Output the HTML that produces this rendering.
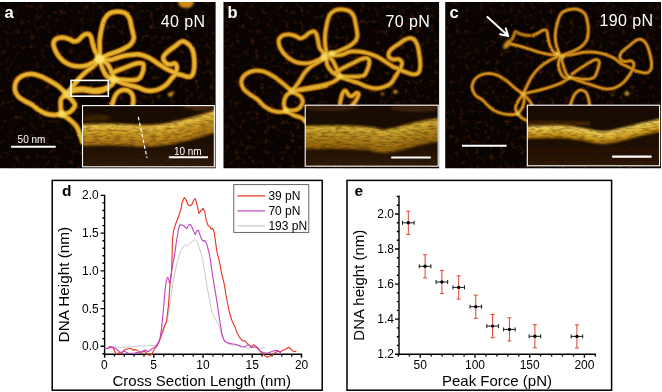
<!DOCTYPE html>
<html><head><meta charset="utf-8"><title>Figure</title>
<style>
html,body{margin:0;padding:0;background:#fff;}
body{width:662px;height:392px;overflow:hidden;position:relative;font-family:"Liberation Sans",Arial,sans-serif;}
svg{position:absolute;left:0;top:0;display:block}
svg text{font-family:"Liberation Sans",Arial,sans-serif;}
</style></head><body>
<svg width="662" height="392" viewBox="0 0 662 392">
<defs>

<filter id="bl0" filterUnits="userSpaceOnUse" x="0" y="0" width="662" height="392"><feTurbulence type="fractalNoise" baseFrequency="0.4" numOctaves="2" seed="5" result="t"/><feDisplacementMap in="SourceGraphic" in2="t" scale="1.8" xChannelSelector="R" yChannelSelector="G"/><feGaussianBlur stdDeviation="0.5"/></filter>
<filter id="bl3" filterUnits="userSpaceOnUse" x="0" y="0" width="662" height="392"><feGaussianBlur stdDeviation="0.9"/></filter>
<filter id="tx" x="0" y="0" width="100%" height="100%" color-interpolation-filters="sRGB"><feTurbulence type="fractalNoise" baseFrequency="0.14 0.5" numOctaves="2" seed="11"/><feColorMatrix values="0 0 0 0 0.08  0 0 0 0 0.03  0 0 0 0 0  0 0 0 0.9 -0.36"/></filter>
<linearGradient id="gia" x1="0" y1="0" x2="0" y2="1"><stop offset="0" stop-color="#170b03"/><stop offset="0.6" stop-color="#1d0f04"/><stop offset="1" stop-color="#301a07"/></linearGradient>
<filter id="nz" x="0" y="0" width="100%" height="100%" color-interpolation-filters="sRGB"><feTurbulence type="fractalNoise" baseFrequency="0.2" numOctaves="3" seed="7"/><feColorMatrix values="0 0 0 0 0.32  0 0 0 0 0.13  0 0 0 0 0.02  0 0 0 2.3 -1.3"/><feGaussianBlur stdDeviation="0.6"/></filter>
<filter id="bl" filterUnits="userSpaceOnUse" x="0" y="0" width="662" height="392"><feTurbulence type="fractalNoise" baseFrequency="0.35" numOctaves="2" seed="3" result="t"/><feDisplacementMap in="SourceGraphic" in2="t" scale="1.6" xChannelSelector="R" yChannelSelector="G"/><feGaussianBlur stdDeviation="0.62"/></filter>
<filter id="bl2" filterUnits="userSpaceOnUse" x="0" y="0" width="662" height="392"><feGaussianBlur stdDeviation="1.1"/></filter>
<clipPath id="ca"><rect x="0" y="2" width="215.6" height="166.3"/></clipPath>
<clipPath id="cb"><rect x="223.5" y="2" width="215.6" height="166.3"/></clipPath>
<clipPath id="cc"><rect x="445.2" y="2" width="215.8" height="166.3"/></clipPath>

</defs>
<rect width="662" height="392" fill="#fff"/>
<g clip-path="url(#ca)"><rect x="0" y="2" width="216" height="167" fill="#090402"/><rect x="0" y="2" width="216" height="167" filter="url(#nz)"/><g filter="url(#bl)" fill="none" stroke-linecap="round" stroke-linejoin="round"><path d="M99.6 59.0C99.6 57.5 99.8 53.3 99.8 50.0C99.8 46.7 99.5 42.9 99.8 39.3C100.1 35.7 100.8 31.9 101.6 28.6C102.3 25.3 103.0 22.1 104.3 19.6C105.6 17.1 107.5 14.7 109.6 13.4C111.7 12.1 114.3 11.7 116.8 11.6C119.3 11.5 122.7 11.9 124.8 12.9C126.9 13.9 128.2 15.9 129.3 17.9C130.4 19.9 130.5 22.5 131.1 25.0C131.7 27.5 132.4 30.8 132.9 33.0C133.4 35.2 134.1 36.6 133.8 38.4C133.5 40.2 132.6 42.2 131.1 43.8C129.6 45.4 127.2 46.9 124.8 48.2C122.4 49.5 119.5 50.8 116.8 51.8C114.1 52.8 111.7 53.3 108.8 54.5C105.9 55.7 101.1 58.2 99.6 59.0 M99.6 59.0C98.9 57.8 96.6 54.3 95.4 51.8C94.2 49.3 93.5 46.3 92.7 43.8C92.0 41.3 91.8 38.2 90.9 36.6C90.0 35.0 88.6 34.0 87.3 33.9C86.0 33.8 84.4 34.7 82.9 35.7C81.4 36.8 79.9 39.2 78.4 40.2C76.9 41.2 75.5 41.6 73.9 41.4C72.3 41.2 70.5 39.5 68.6 38.9C66.7 38.2 64.4 37.5 62.3 37.5C60.2 37.5 57.6 37.9 56.1 38.9C54.6 39.9 53.5 41.9 53.4 43.8C53.2 45.6 54.3 47.9 55.2 50.0C56.1 52.1 57.3 54.4 58.8 56.3C60.3 58.2 62.0 60.1 64.1 61.6C66.2 63.1 68.8 64.4 71.3 65.2C73.8 66.0 76.6 66.4 79.3 66.4C82.0 66.4 84.8 66.0 87.3 65.2C89.8 64.4 92.5 62.6 94.5 61.6C96.5 60.6 98.8 59.4 99.6 59.0 M99.6 59.0C98.7 60.1 96.1 63.5 94.1 65.5C92.0 67.5 89.6 68.8 87.3 70.8C85.0 72.8 82.7 74.8 80.4 77.2C78.1 79.6 75.8 82.5 73.5 85.3C71.2 88.1 67.8 92.7 66.6 94.2 M99.6 59.0C101.3 59.1 106.8 60.2 109.9 59.9C113.0 59.6 115.2 58.2 118.2 57.4C121.2 56.6 124.6 55.7 128.2 55.2C131.8 54.7 136.1 54.1 139.6 54.5C143.1 54.9 146.2 56.3 149.2 57.8C152.2 59.3 155.1 61.8 157.8 63.5C160.5 65.2 163.2 67.0 165.4 68.3C167.6 69.6 169.5 70.3 171.2 71.2C172.9 72.1 175.5 72.2 175.5 73.5C175.5 74.8 172.7 77.1 171.2 78.9C169.7 80.8 168.2 83.0 166.4 84.6C164.7 86.2 162.9 87.4 160.7 88.4C158.5 89.4 155.6 90.4 153.0 90.7C150.4 91.0 147.9 90.9 145.3 90.3C142.8 89.7 140.6 88.2 137.7 87.3C134.8 86.4 130.6 85.6 127.7 84.8C124.8 84.0 122.8 83.1 120.5 82.2C118.2 81.3 114.9 80.0 113.8 79.5 M175.5 73.5C176.5 73.8 179.5 74.4 181.7 75.0C183.8 75.6 186.6 76.9 188.4 76.9C190.2 76.9 191.3 76.4 192.3 75.0C193.3 73.6 193.9 71.0 194.2 68.3C194.5 65.6 194.5 61.9 194.2 58.7C193.9 55.5 193.4 51.8 192.3 49.2C191.2 46.7 189.3 44.7 187.5 43.4C185.7 42.1 183.8 41.0 181.7 41.5C179.6 42.0 177.4 44.5 175.0 46.3C172.6 48.0 169.3 50.2 167.4 52.0C165.5 53.8 164.0 55.2 163.5 56.8C163.0 58.4 163.5 60.3 164.5 61.6C165.5 62.9 167.6 64.2 169.3 64.5C171.1 64.8 173.7 63.0 175.0 63.5C176.3 64.0 176.7 66.0 176.9 67.4C177.1 68.8 176.2 71.3 176.0 72.1 M99.6 59.0C100.1 60.5 101.2 65.4 102.4 68.2C103.6 71.0 104.7 74.1 106.6 76.0C108.5 77.9 112.6 78.9 113.8 79.5 M99.6 59.0C100.8 59.7 104.9 61.7 106.6 63.2C108.3 64.7 108.9 66.4 109.9 68.2C110.9 70.0 111.8 72.1 112.5 74.0C113.2 75.9 113.6 78.6 113.8 79.5 M112.0 73.0C113.6 72.3 118.5 70.2 121.5 69.0C124.5 67.8 127.0 66.7 129.8 65.7C132.6 64.7 135.9 63.5 138.1 63.2C140.3 62.9 142.2 62.9 143.1 64.0C144.0 65.1 143.5 68.2 143.3 69.9C143.1 71.6 142.5 72.8 141.9 74.1C141.3 75.4 140.9 76.7 139.9 77.7C138.9 78.7 137.7 79.5 135.8 79.9C133.9 80.3 131.1 80.2 128.7 80.2C126.3 80.2 124.0 79.8 121.5 79.7C119.0 79.6 115.1 79.5 113.8 79.5 M66.6 94.2C67.7 93.4 70.4 90.3 73.2 89.4C76.0 88.5 79.9 88.5 83.2 88.6C86.5 88.7 90.2 90.1 93.2 90.2C96.2 90.3 99.0 90.0 101.5 89.4C104.0 88.8 106.5 87.7 108.3 86.8C110.1 85.9 111.4 85.5 112.3 84.3C113.2 83.1 113.5 80.3 113.8 79.5 M66.6 94.2C67.7 93.7 70.4 91.6 73.2 90.9C76.0 90.2 79.9 90.0 83.2 90.1C86.5 90.2 90.2 91.6 93.2 91.7C96.2 91.8 99.0 91.6 101.5 90.9C104.0 90.2 107.2 88.3 108.3 87.8 M112.3 104.0C112.7 102.8 113.9 98.5 114.9 96.5C115.9 94.5 117.0 93.0 118.5 91.9C120.0 90.8 121.9 90.1 123.6 89.9C125.3 89.7 127.3 90.1 128.7 90.9C130.1 91.7 131.4 93.0 132.2 94.5C133.0 96.0 133.2 97.8 133.3 99.6C133.4 101.3 132.9 104.1 132.8 105.0 M66.6 94.2C65.3 92.9 61.5 88.7 58.6 86.4C55.7 84.2 52.5 82.4 49.4 80.7C46.3 79.0 43.3 77.2 40.2 76.1C37.1 74.9 34.1 73.8 31.0 73.8C27.9 73.8 24.3 74.8 21.8 76.1C19.3 77.4 17.2 79.5 16.1 81.8C15.0 84.1 14.5 87.4 14.9 89.9C15.3 92.4 16.7 94.8 18.4 96.7C20.1 98.6 23.0 100.0 25.3 101.3C27.6 102.6 30.0 103.4 32.1 104.8C34.2 106.2 35.6 107.9 37.9 109.4C40.2 110.9 43.2 112.7 45.9 113.6C48.6 114.5 51.4 114.9 54.0 115.0C56.6 115.1 60.4 114.2 61.7 114.0 M66.6 94.2C65.7 95.0 62.2 97.0 61.2 99.0C60.2 101.0 60.5 103.5 60.6 106.0C60.7 108.5 61.5 112.7 61.7 114.0 M66.6 94.2C67.4 95.2 70.2 98.1 71.6 99.9C73.0 101.7 74.9 103.1 74.9 104.9C74.9 106.7 73.0 109.2 71.6 110.7C70.2 112.2 68.2 113.0 66.6 113.6C64.9 114.1 62.5 113.9 61.7 114.0 M61.7 114.0C63.0 114.9 67.1 117.5 69.6 119.6C72.1 121.7 75.0 124.1 76.8 126.8C78.6 129.5 79.5 133.2 80.4 135.7C81.4 138.2 82.2 140.9 82.5 142.0" stroke="#6e3a00" stroke-width="6.8" opacity="0.8"/><path d="M99.6 59.0C99.6 57.5 99.8 53.3 99.8 50.0C99.8 46.7 99.5 42.9 99.8 39.3C100.1 35.7 100.8 31.9 101.6 28.6C102.3 25.3 103.0 22.1 104.3 19.6C105.6 17.1 107.5 14.7 109.6 13.4C111.7 12.1 114.3 11.7 116.8 11.6C119.3 11.5 122.7 11.9 124.8 12.9C126.9 13.9 128.2 15.9 129.3 17.9C130.4 19.9 130.5 22.5 131.1 25.0C131.7 27.5 132.4 30.8 132.9 33.0C133.4 35.2 134.1 36.6 133.8 38.4C133.5 40.2 132.6 42.2 131.1 43.8C129.6 45.4 127.2 46.9 124.8 48.2C122.4 49.5 119.5 50.8 116.8 51.8C114.1 52.8 111.7 53.3 108.8 54.5C105.9 55.7 101.1 58.2 99.6 59.0 M99.6 59.0C98.9 57.8 96.6 54.3 95.4 51.8C94.2 49.3 93.5 46.3 92.7 43.8C92.0 41.3 91.8 38.2 90.9 36.6C90.0 35.0 88.6 34.0 87.3 33.9C86.0 33.8 84.4 34.7 82.9 35.7C81.4 36.8 79.9 39.2 78.4 40.2C76.9 41.2 75.5 41.6 73.9 41.4C72.3 41.2 70.5 39.5 68.6 38.9C66.7 38.2 64.4 37.5 62.3 37.5C60.2 37.5 57.6 37.9 56.1 38.9C54.6 39.9 53.5 41.9 53.4 43.8C53.2 45.6 54.3 47.9 55.2 50.0C56.1 52.1 57.3 54.4 58.8 56.3C60.3 58.2 62.0 60.1 64.1 61.6C66.2 63.1 68.8 64.4 71.3 65.2C73.8 66.0 76.6 66.4 79.3 66.4C82.0 66.4 84.8 66.0 87.3 65.2C89.8 64.4 92.5 62.6 94.5 61.6C96.5 60.6 98.8 59.4 99.6 59.0 M99.6 59.0C98.7 60.1 96.1 63.5 94.1 65.5C92.0 67.5 89.6 68.8 87.3 70.8C85.0 72.8 82.7 74.8 80.4 77.2C78.1 79.6 75.8 82.5 73.5 85.3C71.2 88.1 67.8 92.7 66.6 94.2 M99.6 59.0C101.3 59.1 106.8 60.2 109.9 59.9C113.0 59.6 115.2 58.2 118.2 57.4C121.2 56.6 124.6 55.7 128.2 55.2C131.8 54.7 136.1 54.1 139.6 54.5C143.1 54.9 146.2 56.3 149.2 57.8C152.2 59.3 155.1 61.8 157.8 63.5C160.5 65.2 163.2 67.0 165.4 68.3C167.6 69.6 169.5 70.3 171.2 71.2C172.9 72.1 175.5 72.2 175.5 73.5C175.5 74.8 172.7 77.1 171.2 78.9C169.7 80.8 168.2 83.0 166.4 84.6C164.7 86.2 162.9 87.4 160.7 88.4C158.5 89.4 155.6 90.4 153.0 90.7C150.4 91.0 147.9 90.9 145.3 90.3C142.8 89.7 140.6 88.2 137.7 87.3C134.8 86.4 130.6 85.6 127.7 84.8C124.8 84.0 122.8 83.1 120.5 82.2C118.2 81.3 114.9 80.0 113.8 79.5 M175.5 73.5C176.5 73.8 179.5 74.4 181.7 75.0C183.8 75.6 186.6 76.9 188.4 76.9C190.2 76.9 191.3 76.4 192.3 75.0C193.3 73.6 193.9 71.0 194.2 68.3C194.5 65.6 194.5 61.9 194.2 58.7C193.9 55.5 193.4 51.8 192.3 49.2C191.2 46.7 189.3 44.7 187.5 43.4C185.7 42.1 183.8 41.0 181.7 41.5C179.6 42.0 177.4 44.5 175.0 46.3C172.6 48.0 169.3 50.2 167.4 52.0C165.5 53.8 164.0 55.2 163.5 56.8C163.0 58.4 163.5 60.3 164.5 61.6C165.5 62.9 167.6 64.2 169.3 64.5C171.1 64.8 173.7 63.0 175.0 63.5C176.3 64.0 176.7 66.0 176.9 67.4C177.1 68.8 176.2 71.3 176.0 72.1 M99.6 59.0C100.1 60.5 101.2 65.4 102.4 68.2C103.6 71.0 104.7 74.1 106.6 76.0C108.5 77.9 112.6 78.9 113.8 79.5 M99.6 59.0C100.8 59.7 104.9 61.7 106.6 63.2C108.3 64.7 108.9 66.4 109.9 68.2C110.9 70.0 111.8 72.1 112.5 74.0C113.2 75.9 113.6 78.6 113.8 79.5 M112.0 73.0C113.6 72.3 118.5 70.2 121.5 69.0C124.5 67.8 127.0 66.7 129.8 65.7C132.6 64.7 135.9 63.5 138.1 63.2C140.3 62.9 142.2 62.9 143.1 64.0C144.0 65.1 143.5 68.2 143.3 69.9C143.1 71.6 142.5 72.8 141.9 74.1C141.3 75.4 140.9 76.7 139.9 77.7C138.9 78.7 137.7 79.5 135.8 79.9C133.9 80.3 131.1 80.2 128.7 80.2C126.3 80.2 124.0 79.8 121.5 79.7C119.0 79.6 115.1 79.5 113.8 79.5 M66.6 94.2C67.7 93.4 70.4 90.3 73.2 89.4C76.0 88.5 79.9 88.5 83.2 88.6C86.5 88.7 90.2 90.1 93.2 90.2C96.2 90.3 99.0 90.0 101.5 89.4C104.0 88.8 106.5 87.7 108.3 86.8C110.1 85.9 111.4 85.5 112.3 84.3C113.2 83.1 113.5 80.3 113.8 79.5 M66.6 94.2C67.7 93.7 70.4 91.6 73.2 90.9C76.0 90.2 79.9 90.0 83.2 90.1C86.5 90.2 90.2 91.6 93.2 91.7C96.2 91.8 99.0 91.6 101.5 90.9C104.0 90.2 107.2 88.3 108.3 87.8 M112.3 104.0C112.7 102.8 113.9 98.5 114.9 96.5C115.9 94.5 117.0 93.0 118.5 91.9C120.0 90.8 121.9 90.1 123.6 89.9C125.3 89.7 127.3 90.1 128.7 90.9C130.1 91.7 131.4 93.0 132.2 94.5C133.0 96.0 133.2 97.8 133.3 99.6C133.4 101.3 132.9 104.1 132.8 105.0 M66.6 94.2C65.3 92.9 61.5 88.7 58.6 86.4C55.7 84.2 52.5 82.4 49.4 80.7C46.3 79.0 43.3 77.2 40.2 76.1C37.1 74.9 34.1 73.8 31.0 73.8C27.9 73.8 24.3 74.8 21.8 76.1C19.3 77.4 17.2 79.5 16.1 81.8C15.0 84.1 14.5 87.4 14.9 89.9C15.3 92.4 16.7 94.8 18.4 96.7C20.1 98.6 23.0 100.0 25.3 101.3C27.6 102.6 30.0 103.4 32.1 104.8C34.2 106.2 35.6 107.9 37.9 109.4C40.2 110.9 43.2 112.7 45.9 113.6C48.6 114.5 51.4 114.9 54.0 115.0C56.6 115.1 60.4 114.2 61.7 114.0 M66.6 94.2C65.7 95.0 62.2 97.0 61.2 99.0C60.2 101.0 60.5 103.5 60.6 106.0C60.7 108.5 61.5 112.7 61.7 114.0 M66.6 94.2C67.4 95.2 70.2 98.1 71.6 99.9C73.0 101.7 74.9 103.1 74.9 104.9C74.9 106.7 73.0 109.2 71.6 110.7C70.2 112.2 68.2 113.0 66.6 113.6C64.9 114.1 62.5 113.9 61.7 114.0 M61.7 114.0C63.0 114.9 67.1 117.5 69.6 119.6C72.1 121.7 75.0 124.1 76.8 126.8C78.6 129.5 79.5 133.2 80.4 135.7C81.4 138.2 82.2 140.9 82.5 142.0" stroke="#c48814" stroke-width="4.8"/><path d="M99.6 59.0C99.6 57.5 99.8 53.3 99.8 50.0C99.8 46.7 99.5 42.9 99.8 39.3C100.1 35.7 100.8 31.9 101.6 28.6C102.3 25.3 103.0 22.1 104.3 19.6C105.6 17.1 107.5 14.7 109.6 13.4C111.7 12.1 114.3 11.7 116.8 11.6C119.3 11.5 122.7 11.9 124.8 12.9C126.9 13.9 128.2 15.9 129.3 17.9C130.4 19.9 130.5 22.5 131.1 25.0C131.7 27.5 132.4 30.8 132.9 33.0C133.4 35.2 134.1 36.6 133.8 38.4C133.5 40.2 132.6 42.2 131.1 43.8C129.6 45.4 127.2 46.9 124.8 48.2C122.4 49.5 119.5 50.8 116.8 51.8C114.1 52.8 111.7 53.3 108.8 54.5C105.9 55.7 101.1 58.2 99.6 59.0 M99.6 59.0C98.9 57.8 96.6 54.3 95.4 51.8C94.2 49.3 93.5 46.3 92.7 43.8C92.0 41.3 91.8 38.2 90.9 36.6C90.0 35.0 88.6 34.0 87.3 33.9C86.0 33.8 84.4 34.7 82.9 35.7C81.4 36.8 79.9 39.2 78.4 40.2C76.9 41.2 75.5 41.6 73.9 41.4C72.3 41.2 70.5 39.5 68.6 38.9C66.7 38.2 64.4 37.5 62.3 37.5C60.2 37.5 57.6 37.9 56.1 38.9C54.6 39.9 53.5 41.9 53.4 43.8C53.2 45.6 54.3 47.9 55.2 50.0C56.1 52.1 57.3 54.4 58.8 56.3C60.3 58.2 62.0 60.1 64.1 61.6C66.2 63.1 68.8 64.4 71.3 65.2C73.8 66.0 76.6 66.4 79.3 66.4C82.0 66.4 84.8 66.0 87.3 65.2C89.8 64.4 92.5 62.6 94.5 61.6C96.5 60.6 98.8 59.4 99.6 59.0 M99.6 59.0C98.7 60.1 96.1 63.5 94.1 65.5C92.0 67.5 89.6 68.8 87.3 70.8C85.0 72.8 82.7 74.8 80.4 77.2C78.1 79.6 75.8 82.5 73.5 85.3C71.2 88.1 67.8 92.7 66.6 94.2 M99.6 59.0C101.3 59.1 106.8 60.2 109.9 59.9C113.0 59.6 115.2 58.2 118.2 57.4C121.2 56.6 124.6 55.7 128.2 55.2C131.8 54.7 136.1 54.1 139.6 54.5C143.1 54.9 146.2 56.3 149.2 57.8C152.2 59.3 155.1 61.8 157.8 63.5C160.5 65.2 163.2 67.0 165.4 68.3C167.6 69.6 169.5 70.3 171.2 71.2C172.9 72.1 175.5 72.2 175.5 73.5C175.5 74.8 172.7 77.1 171.2 78.9C169.7 80.8 168.2 83.0 166.4 84.6C164.7 86.2 162.9 87.4 160.7 88.4C158.5 89.4 155.6 90.4 153.0 90.7C150.4 91.0 147.9 90.9 145.3 90.3C142.8 89.7 140.6 88.2 137.7 87.3C134.8 86.4 130.6 85.6 127.7 84.8C124.8 84.0 122.8 83.1 120.5 82.2C118.2 81.3 114.9 80.0 113.8 79.5 M175.5 73.5C176.5 73.8 179.5 74.4 181.7 75.0C183.8 75.6 186.6 76.9 188.4 76.9C190.2 76.9 191.3 76.4 192.3 75.0C193.3 73.6 193.9 71.0 194.2 68.3C194.5 65.6 194.5 61.9 194.2 58.7C193.9 55.5 193.4 51.8 192.3 49.2C191.2 46.7 189.3 44.7 187.5 43.4C185.7 42.1 183.8 41.0 181.7 41.5C179.6 42.0 177.4 44.5 175.0 46.3C172.6 48.0 169.3 50.2 167.4 52.0C165.5 53.8 164.0 55.2 163.5 56.8C163.0 58.4 163.5 60.3 164.5 61.6C165.5 62.9 167.6 64.2 169.3 64.5C171.1 64.8 173.7 63.0 175.0 63.5C176.3 64.0 176.7 66.0 176.9 67.4C177.1 68.8 176.2 71.3 176.0 72.1 M99.6 59.0C100.1 60.5 101.2 65.4 102.4 68.2C103.6 71.0 104.7 74.1 106.6 76.0C108.5 77.9 112.6 78.9 113.8 79.5 M99.6 59.0C100.8 59.7 104.9 61.7 106.6 63.2C108.3 64.7 108.9 66.4 109.9 68.2C110.9 70.0 111.8 72.1 112.5 74.0C113.2 75.9 113.6 78.6 113.8 79.5 M112.0 73.0C113.6 72.3 118.5 70.2 121.5 69.0C124.5 67.8 127.0 66.7 129.8 65.7C132.6 64.7 135.9 63.5 138.1 63.2C140.3 62.9 142.2 62.9 143.1 64.0C144.0 65.1 143.5 68.2 143.3 69.9C143.1 71.6 142.5 72.8 141.9 74.1C141.3 75.4 140.9 76.7 139.9 77.7C138.9 78.7 137.7 79.5 135.8 79.9C133.9 80.3 131.1 80.2 128.7 80.2C126.3 80.2 124.0 79.8 121.5 79.7C119.0 79.6 115.1 79.5 113.8 79.5 M66.6 94.2C67.7 93.4 70.4 90.3 73.2 89.4C76.0 88.5 79.9 88.5 83.2 88.6C86.5 88.7 90.2 90.1 93.2 90.2C96.2 90.3 99.0 90.0 101.5 89.4C104.0 88.8 106.5 87.7 108.3 86.8C110.1 85.9 111.4 85.5 112.3 84.3C113.2 83.1 113.5 80.3 113.8 79.5 M66.6 94.2C67.7 93.7 70.4 91.6 73.2 90.9C76.0 90.2 79.9 90.0 83.2 90.1C86.5 90.2 90.2 91.6 93.2 91.7C96.2 91.8 99.0 91.6 101.5 90.9C104.0 90.2 107.2 88.3 108.3 87.8 M112.3 104.0C112.7 102.8 113.9 98.5 114.9 96.5C115.9 94.5 117.0 93.0 118.5 91.9C120.0 90.8 121.9 90.1 123.6 89.9C125.3 89.7 127.3 90.1 128.7 90.9C130.1 91.7 131.4 93.0 132.2 94.5C133.0 96.0 133.2 97.8 133.3 99.6C133.4 101.3 132.9 104.1 132.8 105.0 M66.6 94.2C65.3 92.9 61.5 88.7 58.6 86.4C55.7 84.2 52.5 82.4 49.4 80.7C46.3 79.0 43.3 77.2 40.2 76.1C37.1 74.9 34.1 73.8 31.0 73.8C27.9 73.8 24.3 74.8 21.8 76.1C19.3 77.4 17.2 79.5 16.1 81.8C15.0 84.1 14.5 87.4 14.9 89.9C15.3 92.4 16.7 94.8 18.4 96.7C20.1 98.6 23.0 100.0 25.3 101.3C27.6 102.6 30.0 103.4 32.1 104.8C34.2 106.2 35.6 107.9 37.9 109.4C40.2 110.9 43.2 112.7 45.9 113.6C48.6 114.5 51.4 114.9 54.0 115.0C56.6 115.1 60.4 114.2 61.7 114.0 M66.6 94.2C65.7 95.0 62.2 97.0 61.2 99.0C60.2 101.0 60.5 103.5 60.6 106.0C60.7 108.5 61.5 112.7 61.7 114.0 M66.6 94.2C67.4 95.2 70.2 98.1 71.6 99.9C73.0 101.7 74.9 103.1 74.9 104.9C74.9 106.7 73.0 109.2 71.6 110.7C70.2 112.2 68.2 113.0 66.6 113.6C64.9 114.1 62.5 113.9 61.7 114.0 M61.7 114.0C63.0 114.9 67.1 117.5 69.6 119.6C72.1 121.7 75.0 124.1 76.8 126.8C78.6 129.5 79.5 133.2 80.4 135.7C81.4 138.2 82.2 140.9 82.5 142.0" stroke="#e4b432" stroke-width="2.7"/></g><g filter="url(#bl3)"><ellipse cx="99.6" cy="59.0" rx="5.2" ry="4.6" fill="#fae670"/><ellipse cx="113.8" cy="79.5" rx="5.0" ry="3.4" fill="#f8dc5c"/><ellipse cx="66.6" cy="94.2" rx="4.0" ry="4.0" fill="#f6d454"/><ellipse cx="61.7" cy="114.0" rx="3.8" ry="3.8" fill="#f8dc5c"/><ellipse cx="170.4" cy="94.4" rx="2.6" ry="2.2" fill="#d09420"/><ellipse cx="172.8" cy="92.6" rx="1.5" ry="1.4" fill="#b07a12"/><ellipse cx="158.7" cy="96.3" rx="1.4" ry="1.2" fill="#7a4400"/><ellipse cx="186.0" cy="2.6" rx="7.8" ry="5.4" fill="#d08a18"/></g><g><clipPath id="cia"><rect x="82.5" y="105.6" width="131.8" height="61.2"/></clipPath><g clip-path="url(#cia)"><rect x="82.5" y="105.6" width="131.8" height="61.2" fill="url(#gia)"/><ellipse cx="205" cy="106" rx="22" ry="5" fill="#4a2808" filter="url(#bl2)"/><ellipse cx="95" cy="118" rx="16" ry="3.5" fill="#3e2006" filter="url(#bl2)"/><g filter="url(#bl3)" fill="none"><path d="M70.0 135.2C74.8 135.1 90.7 134.5 99.1 134.4C107.5 134.3 113.2 134.4 120.3 134.6C127.3 134.8 134.3 135.8 141.4 135.8C148.5 135.8 156.2 135.3 162.6 134.6C168.9 133.8 173.9 132.6 179.5 131.3C185.1 130.0 190.8 128.6 196.4 127.0C202.0 125.4 208.5 123.3 213.3 121.8C218.1 120.3 223.1 118.6 225.0 118.0" stroke="#5e3806" stroke-width="23.0"/><path d="M70.0 135.2C74.8 135.1 90.7 134.5 99.1 134.4C107.5 134.3 113.2 134.4 120.3 134.6C127.3 134.8 134.3 135.8 141.4 135.8C148.5 135.8 156.2 135.3 162.6 134.6C168.9 133.8 173.9 132.6 179.5 131.3C185.1 130.0 190.8 128.6 196.4 127.0C202.0 125.4 208.5 123.3 213.3 121.8C218.1 120.3 223.1 118.6 225.0 118.0" stroke="#a87412" stroke-width="20.7"/><path d="M70.0 133.1C74.8 133.0 90.7 132.4 99.1 132.3C107.5 132.2 113.2 132.3 120.3 132.5C127.3 132.8 134.3 133.7 141.4 133.7C148.5 133.7 156.2 133.3 162.6 132.5C168.9 131.8 173.9 130.5 179.5 129.2C185.1 128.0 190.8 126.5 196.4 124.9C202.0 123.3 208.5 121.2 213.3 119.7C218.1 118.2 223.1 116.6 225.0 115.9" stroke="#bc881a" stroke-width="16.1"/><path d="M70.0 130.6C74.8 130.5 90.7 129.9 99.1 129.8C107.5 129.7 113.2 129.8 120.3 130.0C127.3 130.2 134.3 131.2 141.4 131.2C148.5 131.2 156.2 130.8 162.6 130.0C168.9 129.2 173.9 128.0 179.5 126.7C185.1 125.4 190.8 124.0 196.4 122.4C202.0 120.8 208.5 118.7 213.3 117.2C218.1 115.7 223.1 114.0 225.0 113.4" stroke="#d0a028" stroke-width="9.7"/><path d="M70.0 127.4C74.8 127.2 90.7 126.7 99.1 126.6C107.5 126.5 113.2 126.5 120.3 126.8C127.3 127.0 134.3 128.0 141.4 128.0C148.5 128.0 156.2 127.5 162.6 126.8C168.9 126.0 173.9 124.7 179.5 123.5C185.1 122.2 190.8 120.8 196.4 119.2C202.0 117.6 208.5 115.5 213.3 114.0C218.1 112.5 223.1 110.8 225.0 110.2" stroke="#e8c044" stroke-width="4.1"/></g><rect x="82.5" y="105.6" width="131.8" height="61.2" filter="url(#tx)"/></g><rect x="82.5" y="105.6" width="131.8" height="61.2" fill="none" stroke="#fff" stroke-width="1.1"/></g><path d="M138.3 116.9L147 158" stroke="#fff" stroke-width="1.2" stroke-dasharray="3.6 2.2"/><path d="M168.9 157.2H208" stroke="#fff" stroke-width="2.1"/><text x="187.8" y="154.6" font-size="10" fill="#fff" text-anchor="middle">10 nm</text><rect x="71" y="80.4" width="37.3" height="15.8" fill="none" stroke="#fff" stroke-width="1.6"/><path d="M11.1 146.8H55.7" stroke="#fff" stroke-width="2.1"/><text x="31.5" y="142.5" font-size="10" fill="#fff" text-anchor="middle">50 nm</text><text x="4.6" y="17.8" font-size="16.5" font-weight="bold" fill="#fff">a</text><text x="160.8" y="26.8" font-size="16" letter-spacing="0.4" fill="#fff">40 pN</text></g>
<g clip-path="url(#cb)"><rect x="223" y="2" width="217" height="167" fill="#090402"/><rect x="223" y="2" width="217" height="167" filter="url(#nz)"/><g filter="url(#bl)" fill="none" stroke-linecap="round" stroke-linejoin="round"><path d="M327.0 55.5C326.7 53.7 325.5 48.2 325.2 44.6C324.9 41.0 324.9 37.5 325.2 33.9C325.5 30.3 326.3 26.3 327.0 23.2C327.7 20.1 328.3 17.3 329.6 15.2C330.9 13.1 332.9 11.4 335.0 10.4C337.1 9.4 339.7 9.2 342.1 9.3C344.5 9.4 347.4 10.0 349.3 11.1C351.2 12.2 352.8 14.1 353.8 16.1C354.8 18.1 355.0 20.8 355.5 23.2C356.0 25.6 356.5 28.2 356.8 30.4C357.1 32.6 357.7 34.7 357.3 36.6C356.9 38.5 355.9 40.4 354.6 42.0C353.3 43.6 351.4 44.8 349.3 46.1C347.2 47.4 344.5 48.5 342.1 49.6C339.7 50.7 337.5 51.7 335.0 52.7C332.5 53.7 328.3 55.0 327.0 55.5 M327.0 55.5C325.8 54.3 321.3 50.8 319.8 48.2C318.3 45.7 318.6 42.6 318.0 40.2C317.4 37.8 317.0 35.4 316.3 33.9C315.6 32.4 314.8 31.4 313.6 31.3C312.4 31.2 310.6 32.1 309.1 33.0C307.6 33.9 306.1 35.7 304.6 36.6C303.1 37.5 301.8 38.5 300.2 38.4C298.6 38.2 296.7 36.4 294.8 35.7C292.9 35.0 290.7 34.3 288.6 34.3C286.5 34.3 283.9 34.7 282.3 35.7C280.7 36.7 279.2 38.4 278.8 40.2C278.4 42.0 278.9 44.3 279.6 46.4C280.3 48.5 281.7 50.8 283.2 52.7C284.7 54.6 286.5 56.4 288.6 58.0C290.7 59.6 293.2 61.2 295.7 62.1C298.2 63.0 301.1 63.3 303.8 63.4C306.5 63.5 309.3 63.1 311.8 62.5C314.3 61.9 316.4 61.0 318.9 59.8C321.4 58.6 325.6 56.2 327.0 55.5 M327.0 55.5C325.7 56.5 322.0 59.7 319.4 61.5C316.8 63.3 313.9 64.2 311.4 66.1C308.9 68.0 306.6 70.3 304.5 73.0C302.4 75.7 300.9 79.0 298.8 82.1C296.7 85.1 293.0 89.8 291.9 91.3 M327.0 55.5C329.4 55.4 337.4 55.5 341.2 54.9C345.0 54.3 346.7 52.2 349.8 51.7C352.9 51.2 356.3 51.4 359.6 51.7C362.9 52.1 366.3 52.9 369.4 53.8C372.5 54.7 375.1 55.6 378.0 57.1C380.9 58.6 384.2 60.9 386.7 62.5C389.2 64.1 391.1 65.6 393.2 66.8C395.2 68.0 398.6 67.9 399.0 69.5C399.4 71.1 396.7 74.3 395.4 76.6C394.1 78.9 392.8 81.4 391.0 83.1C389.2 84.8 387.0 85.9 384.5 86.8C382.0 87.7 378.8 88.5 375.9 88.5C373.0 88.5 370.1 87.7 367.2 86.8C364.3 85.9 361.4 84.2 358.5 83.1C355.6 82.0 352.9 81.4 349.8 80.3C346.7 79.2 341.7 77.2 340.1 76.6 M399.0 69.5C400.2 70.0 403.7 71.5 406.2 72.3C408.7 73.1 411.7 74.4 413.8 74.4C415.9 74.4 417.7 73.9 418.8 72.3C419.9 70.7 420.2 67.8 420.3 64.7C420.4 61.6 419.8 57.2 419.2 53.8C418.6 50.4 418.1 46.6 417.0 44.1C415.9 41.6 414.5 39.5 412.7 38.7C410.9 37.9 408.5 38.2 406.2 39.1C403.9 40.0 401.1 42.4 398.6 44.1C396.1 45.8 392.7 47.7 391.0 49.5C389.3 51.3 388.2 53.3 388.4 54.9C388.6 56.5 390.4 58.6 392.1 59.3C393.8 60.0 397.0 58.8 398.6 59.3C400.2 59.8 401.5 61.1 401.9 62.5C402.3 63.9 401.0 67.0 400.8 67.9 M327.0 55.5C327.0 57.0 326.2 61.9 327.1 64.7C328.0 67.5 330.3 70.3 332.5 72.3C334.7 74.3 338.8 75.9 340.1 76.6 M327.0 55.5C327.9 56.3 330.9 58.0 332.5 60.3C334.1 62.5 335.5 66.3 336.8 69.0C338.1 71.7 339.6 75.3 340.1 76.6 M335.8 72.3C337.1 71.6 340.6 69.4 343.3 67.9C346.0 66.5 349.1 65.0 352.0 63.6C354.9 62.2 358.2 60.2 360.7 59.3C363.2 58.4 365.8 57.7 367.2 58.2C368.6 58.7 369.4 60.5 369.4 62.5C369.4 64.5 368.1 67.9 367.2 70.1C366.3 72.3 365.7 74.4 363.9 75.5C362.1 76.6 359.1 76.4 356.4 76.6C353.7 76.8 350.4 76.6 347.7 76.6C345.0 76.6 341.4 76.6 340.1 76.6 M291.9 91.3C293.4 90.9 297.3 89.8 301.1 89.0C304.9 88.2 310.6 87.5 314.8 86.7C319.0 85.9 323.1 85.3 326.3 84.4C329.5 83.5 331.7 82.8 334.0 81.5C336.3 80.2 339.1 77.4 340.1 76.6 M291.9 91.3C293.4 91.1 297.3 90.8 301.1 90.2C304.9 89.6 310.6 88.7 314.8 87.9C319.0 87.1 324.4 86.0 326.3 85.6 M340.1 103.0C340.5 101.5 341.4 96.0 342.3 93.9C343.2 91.9 344.4 90.5 345.5 90.7C346.6 90.9 347.7 94.1 348.8 95.0C349.9 95.9 350.7 96.4 352.0 96.1C353.3 95.8 355.7 93.1 356.8 92.9C357.9 92.7 358.8 93.6 358.5 95.0C358.2 96.4 356.4 99.8 355.3 101.5C354.2 103.2 352.6 104.8 352.0 105.5 M291.9 91.3C290.4 90.0 285.8 85.8 282.7 83.3C279.6 80.8 276.6 78.3 273.5 76.4C270.4 74.5 267.4 72.8 264.3 71.8C261.2 70.8 258.1 70.3 255.1 70.7C252.0 71.1 248.3 72.4 246.0 74.1C243.7 75.8 241.8 78.5 241.4 81.0C241.0 83.5 242.2 86.7 243.7 89.0C245.2 91.3 248.3 93.1 250.6 94.8C252.9 96.5 255.1 97.5 257.4 99.4C259.7 101.3 261.8 104.4 264.3 106.3C266.8 108.2 269.7 109.8 272.4 110.8C275.1 111.8 278.1 112.0 280.4 112.0C282.7 112.0 285.2 111.0 286.1 110.8 M291.9 91.3C290.9 92.1 287.5 93.8 286.1 95.9C284.8 98.0 283.8 101.5 283.8 104.0C283.8 106.5 285.7 109.7 286.1 110.8 M291.9 91.3C293.4 92.3 299.4 95.0 301.1 97.1C302.8 99.2 303.0 101.9 302.2 104.0C301.4 106.1 299.2 108.6 296.5 109.7C293.8 110.8 287.8 110.6 286.1 110.8 M286.1 110.8C287.5 111.6 291.7 114.2 294.2 115.4C296.7 116.6 299.1 116.6 301.1 117.7C303.1 118.8 305.2 121.3 306.0 122.0" stroke="#683600" stroke-width="6.3" opacity="0.8"/><path d="M327.0 55.5C326.7 53.7 325.5 48.2 325.2 44.6C324.9 41.0 324.9 37.5 325.2 33.9C325.5 30.3 326.3 26.3 327.0 23.2C327.7 20.1 328.3 17.3 329.6 15.2C330.9 13.1 332.9 11.4 335.0 10.4C337.1 9.4 339.7 9.2 342.1 9.3C344.5 9.4 347.4 10.0 349.3 11.1C351.2 12.2 352.8 14.1 353.8 16.1C354.8 18.1 355.0 20.8 355.5 23.2C356.0 25.6 356.5 28.2 356.8 30.4C357.1 32.6 357.7 34.7 357.3 36.6C356.9 38.5 355.9 40.4 354.6 42.0C353.3 43.6 351.4 44.8 349.3 46.1C347.2 47.4 344.5 48.5 342.1 49.6C339.7 50.7 337.5 51.7 335.0 52.7C332.5 53.7 328.3 55.0 327.0 55.5 M327.0 55.5C325.8 54.3 321.3 50.8 319.8 48.2C318.3 45.7 318.6 42.6 318.0 40.2C317.4 37.8 317.0 35.4 316.3 33.9C315.6 32.4 314.8 31.4 313.6 31.3C312.4 31.2 310.6 32.1 309.1 33.0C307.6 33.9 306.1 35.7 304.6 36.6C303.1 37.5 301.8 38.5 300.2 38.4C298.6 38.2 296.7 36.4 294.8 35.7C292.9 35.0 290.7 34.3 288.6 34.3C286.5 34.3 283.9 34.7 282.3 35.7C280.7 36.7 279.2 38.4 278.8 40.2C278.4 42.0 278.9 44.3 279.6 46.4C280.3 48.5 281.7 50.8 283.2 52.7C284.7 54.6 286.5 56.4 288.6 58.0C290.7 59.6 293.2 61.2 295.7 62.1C298.2 63.0 301.1 63.3 303.8 63.4C306.5 63.5 309.3 63.1 311.8 62.5C314.3 61.9 316.4 61.0 318.9 59.8C321.4 58.6 325.6 56.2 327.0 55.5 M327.0 55.5C325.7 56.5 322.0 59.7 319.4 61.5C316.8 63.3 313.9 64.2 311.4 66.1C308.9 68.0 306.6 70.3 304.5 73.0C302.4 75.7 300.9 79.0 298.8 82.1C296.7 85.1 293.0 89.8 291.9 91.3 M327.0 55.5C329.4 55.4 337.4 55.5 341.2 54.9C345.0 54.3 346.7 52.2 349.8 51.7C352.9 51.2 356.3 51.4 359.6 51.7C362.9 52.1 366.3 52.9 369.4 53.8C372.5 54.7 375.1 55.6 378.0 57.1C380.9 58.6 384.2 60.9 386.7 62.5C389.2 64.1 391.1 65.6 393.2 66.8C395.2 68.0 398.6 67.9 399.0 69.5C399.4 71.1 396.7 74.3 395.4 76.6C394.1 78.9 392.8 81.4 391.0 83.1C389.2 84.8 387.0 85.9 384.5 86.8C382.0 87.7 378.8 88.5 375.9 88.5C373.0 88.5 370.1 87.7 367.2 86.8C364.3 85.9 361.4 84.2 358.5 83.1C355.6 82.0 352.9 81.4 349.8 80.3C346.7 79.2 341.7 77.2 340.1 76.6 M399.0 69.5C400.2 70.0 403.7 71.5 406.2 72.3C408.7 73.1 411.7 74.4 413.8 74.4C415.9 74.4 417.7 73.9 418.8 72.3C419.9 70.7 420.2 67.8 420.3 64.7C420.4 61.6 419.8 57.2 419.2 53.8C418.6 50.4 418.1 46.6 417.0 44.1C415.9 41.6 414.5 39.5 412.7 38.7C410.9 37.9 408.5 38.2 406.2 39.1C403.9 40.0 401.1 42.4 398.6 44.1C396.1 45.8 392.7 47.7 391.0 49.5C389.3 51.3 388.2 53.3 388.4 54.9C388.6 56.5 390.4 58.6 392.1 59.3C393.8 60.0 397.0 58.8 398.6 59.3C400.2 59.8 401.5 61.1 401.9 62.5C402.3 63.9 401.0 67.0 400.8 67.9 M327.0 55.5C327.0 57.0 326.2 61.9 327.1 64.7C328.0 67.5 330.3 70.3 332.5 72.3C334.7 74.3 338.8 75.9 340.1 76.6 M327.0 55.5C327.9 56.3 330.9 58.0 332.5 60.3C334.1 62.5 335.5 66.3 336.8 69.0C338.1 71.7 339.6 75.3 340.1 76.6 M335.8 72.3C337.1 71.6 340.6 69.4 343.3 67.9C346.0 66.5 349.1 65.0 352.0 63.6C354.9 62.2 358.2 60.2 360.7 59.3C363.2 58.4 365.8 57.7 367.2 58.2C368.6 58.7 369.4 60.5 369.4 62.5C369.4 64.5 368.1 67.9 367.2 70.1C366.3 72.3 365.7 74.4 363.9 75.5C362.1 76.6 359.1 76.4 356.4 76.6C353.7 76.8 350.4 76.6 347.7 76.6C345.0 76.6 341.4 76.6 340.1 76.6 M291.9 91.3C293.4 90.9 297.3 89.8 301.1 89.0C304.9 88.2 310.6 87.5 314.8 86.7C319.0 85.9 323.1 85.3 326.3 84.4C329.5 83.5 331.7 82.8 334.0 81.5C336.3 80.2 339.1 77.4 340.1 76.6 M291.9 91.3C293.4 91.1 297.3 90.8 301.1 90.2C304.9 89.6 310.6 88.7 314.8 87.9C319.0 87.1 324.4 86.0 326.3 85.6 M340.1 103.0C340.5 101.5 341.4 96.0 342.3 93.9C343.2 91.9 344.4 90.5 345.5 90.7C346.6 90.9 347.7 94.1 348.8 95.0C349.9 95.9 350.7 96.4 352.0 96.1C353.3 95.8 355.7 93.1 356.8 92.9C357.9 92.7 358.8 93.6 358.5 95.0C358.2 96.4 356.4 99.8 355.3 101.5C354.2 103.2 352.6 104.8 352.0 105.5 M291.9 91.3C290.4 90.0 285.8 85.8 282.7 83.3C279.6 80.8 276.6 78.3 273.5 76.4C270.4 74.5 267.4 72.8 264.3 71.8C261.2 70.8 258.1 70.3 255.1 70.7C252.0 71.1 248.3 72.4 246.0 74.1C243.7 75.8 241.8 78.5 241.4 81.0C241.0 83.5 242.2 86.7 243.7 89.0C245.2 91.3 248.3 93.1 250.6 94.8C252.9 96.5 255.1 97.5 257.4 99.4C259.7 101.3 261.8 104.4 264.3 106.3C266.8 108.2 269.7 109.8 272.4 110.8C275.1 111.8 278.1 112.0 280.4 112.0C282.7 112.0 285.2 111.0 286.1 110.8 M291.9 91.3C290.9 92.1 287.5 93.8 286.1 95.9C284.8 98.0 283.8 101.5 283.8 104.0C283.8 106.5 285.7 109.7 286.1 110.8 M291.9 91.3C293.4 92.3 299.4 95.0 301.1 97.1C302.8 99.2 303.0 101.9 302.2 104.0C301.4 106.1 299.2 108.6 296.5 109.7C293.8 110.8 287.8 110.6 286.1 110.8 M286.1 110.8C287.5 111.6 291.7 114.2 294.2 115.4C296.7 116.6 299.1 116.6 301.1 117.7C303.1 118.8 305.2 121.3 306.0 122.0" stroke="#bc7e10" stroke-width="4.3"/><path d="M327.0 55.5C326.7 53.7 325.5 48.2 325.2 44.6C324.9 41.0 324.9 37.5 325.2 33.9C325.5 30.3 326.3 26.3 327.0 23.2C327.7 20.1 328.3 17.3 329.6 15.2C330.9 13.1 332.9 11.4 335.0 10.4C337.1 9.4 339.7 9.2 342.1 9.3C344.5 9.4 347.4 10.0 349.3 11.1C351.2 12.2 352.8 14.1 353.8 16.1C354.8 18.1 355.0 20.8 355.5 23.2C356.0 25.6 356.5 28.2 356.8 30.4C357.1 32.6 357.7 34.7 357.3 36.6C356.9 38.5 355.9 40.4 354.6 42.0C353.3 43.6 351.4 44.8 349.3 46.1C347.2 47.4 344.5 48.5 342.1 49.6C339.7 50.7 337.5 51.7 335.0 52.7C332.5 53.7 328.3 55.0 327.0 55.5 M327.0 55.5C325.8 54.3 321.3 50.8 319.8 48.2C318.3 45.7 318.6 42.6 318.0 40.2C317.4 37.8 317.0 35.4 316.3 33.9C315.6 32.4 314.8 31.4 313.6 31.3C312.4 31.2 310.6 32.1 309.1 33.0C307.6 33.9 306.1 35.7 304.6 36.6C303.1 37.5 301.8 38.5 300.2 38.4C298.6 38.2 296.7 36.4 294.8 35.7C292.9 35.0 290.7 34.3 288.6 34.3C286.5 34.3 283.9 34.7 282.3 35.7C280.7 36.7 279.2 38.4 278.8 40.2C278.4 42.0 278.9 44.3 279.6 46.4C280.3 48.5 281.7 50.8 283.2 52.7C284.7 54.6 286.5 56.4 288.6 58.0C290.7 59.6 293.2 61.2 295.7 62.1C298.2 63.0 301.1 63.3 303.8 63.4C306.5 63.5 309.3 63.1 311.8 62.5C314.3 61.9 316.4 61.0 318.9 59.8C321.4 58.6 325.6 56.2 327.0 55.5 M327.0 55.5C325.7 56.5 322.0 59.7 319.4 61.5C316.8 63.3 313.9 64.2 311.4 66.1C308.9 68.0 306.6 70.3 304.5 73.0C302.4 75.7 300.9 79.0 298.8 82.1C296.7 85.1 293.0 89.8 291.9 91.3 M327.0 55.5C329.4 55.4 337.4 55.5 341.2 54.9C345.0 54.3 346.7 52.2 349.8 51.7C352.9 51.2 356.3 51.4 359.6 51.7C362.9 52.1 366.3 52.9 369.4 53.8C372.5 54.7 375.1 55.6 378.0 57.1C380.9 58.6 384.2 60.9 386.7 62.5C389.2 64.1 391.1 65.6 393.2 66.8C395.2 68.0 398.6 67.9 399.0 69.5C399.4 71.1 396.7 74.3 395.4 76.6C394.1 78.9 392.8 81.4 391.0 83.1C389.2 84.8 387.0 85.9 384.5 86.8C382.0 87.7 378.8 88.5 375.9 88.5C373.0 88.5 370.1 87.7 367.2 86.8C364.3 85.9 361.4 84.2 358.5 83.1C355.6 82.0 352.9 81.4 349.8 80.3C346.7 79.2 341.7 77.2 340.1 76.6 M399.0 69.5C400.2 70.0 403.7 71.5 406.2 72.3C408.7 73.1 411.7 74.4 413.8 74.4C415.9 74.4 417.7 73.9 418.8 72.3C419.9 70.7 420.2 67.8 420.3 64.7C420.4 61.6 419.8 57.2 419.2 53.8C418.6 50.4 418.1 46.6 417.0 44.1C415.9 41.6 414.5 39.5 412.7 38.7C410.9 37.9 408.5 38.2 406.2 39.1C403.9 40.0 401.1 42.4 398.6 44.1C396.1 45.8 392.7 47.7 391.0 49.5C389.3 51.3 388.2 53.3 388.4 54.9C388.6 56.5 390.4 58.6 392.1 59.3C393.8 60.0 397.0 58.8 398.6 59.3C400.2 59.8 401.5 61.1 401.9 62.5C402.3 63.9 401.0 67.0 400.8 67.9 M327.0 55.5C327.0 57.0 326.2 61.9 327.1 64.7C328.0 67.5 330.3 70.3 332.5 72.3C334.7 74.3 338.8 75.9 340.1 76.6 M327.0 55.5C327.9 56.3 330.9 58.0 332.5 60.3C334.1 62.5 335.5 66.3 336.8 69.0C338.1 71.7 339.6 75.3 340.1 76.6 M335.8 72.3C337.1 71.6 340.6 69.4 343.3 67.9C346.0 66.5 349.1 65.0 352.0 63.6C354.9 62.2 358.2 60.2 360.7 59.3C363.2 58.4 365.8 57.7 367.2 58.2C368.6 58.7 369.4 60.5 369.4 62.5C369.4 64.5 368.1 67.9 367.2 70.1C366.3 72.3 365.7 74.4 363.9 75.5C362.1 76.6 359.1 76.4 356.4 76.6C353.7 76.8 350.4 76.6 347.7 76.6C345.0 76.6 341.4 76.6 340.1 76.6 M291.9 91.3C293.4 90.9 297.3 89.8 301.1 89.0C304.9 88.2 310.6 87.5 314.8 86.7C319.0 85.9 323.1 85.3 326.3 84.4C329.5 83.5 331.7 82.8 334.0 81.5C336.3 80.2 339.1 77.4 340.1 76.6 M291.9 91.3C293.4 91.1 297.3 90.8 301.1 90.2C304.9 89.6 310.6 88.7 314.8 87.9C319.0 87.1 324.4 86.0 326.3 85.6 M340.1 103.0C340.5 101.5 341.4 96.0 342.3 93.9C343.2 91.9 344.4 90.5 345.5 90.7C346.6 90.9 347.7 94.1 348.8 95.0C349.9 95.9 350.7 96.4 352.0 96.1C353.3 95.8 355.7 93.1 356.8 92.9C357.9 92.7 358.8 93.6 358.5 95.0C358.2 96.4 356.4 99.8 355.3 101.5C354.2 103.2 352.6 104.8 352.0 105.5 M291.9 91.3C290.4 90.0 285.8 85.8 282.7 83.3C279.6 80.8 276.6 78.3 273.5 76.4C270.4 74.5 267.4 72.8 264.3 71.8C261.2 70.8 258.1 70.3 255.1 70.7C252.0 71.1 248.3 72.4 246.0 74.1C243.7 75.8 241.8 78.5 241.4 81.0C241.0 83.5 242.2 86.7 243.7 89.0C245.2 91.3 248.3 93.1 250.6 94.8C252.9 96.5 255.1 97.5 257.4 99.4C259.7 101.3 261.8 104.4 264.3 106.3C266.8 108.2 269.7 109.8 272.4 110.8C275.1 111.8 278.1 112.0 280.4 112.0C282.7 112.0 285.2 111.0 286.1 110.8 M291.9 91.3C290.9 92.1 287.5 93.8 286.1 95.9C284.8 98.0 283.8 101.5 283.8 104.0C283.8 106.5 285.7 109.7 286.1 110.8 M291.9 91.3C293.4 92.3 299.4 95.0 301.1 97.1C302.8 99.2 303.0 101.9 302.2 104.0C301.4 106.1 299.2 108.6 296.5 109.7C293.8 110.8 287.8 110.6 286.1 110.8 M286.1 110.8C287.5 111.6 291.7 114.2 294.2 115.4C296.7 116.6 299.1 116.6 301.1 117.7C303.1 118.8 305.2 121.3 306.0 122.0" stroke="#dcaa2e" stroke-width="2.2"/></g><g filter="url(#bl3)"><ellipse cx="324.0" cy="57.0" rx="3.2" ry="4.0" fill="#f4dc60"/><ellipse cx="331.8" cy="53.2" rx="3.6" ry="2.8" fill="#f4dc60"/><ellipse cx="340.1" cy="76.6" rx="3.6" ry="2.6" fill="#f0d050"/><ellipse cx="291.9" cy="91.3" rx="3.0" ry="3.0" fill="#f0cc4c"/><ellipse cx="286.1" cy="110.8" rx="3.0" ry="3.0" fill="#f4d858"/><ellipse cx="395.4" cy="91.8" rx="2.3" ry="2.0" fill="#d0921c"/><ellipse cx="382.4" cy="93.9" rx="1.8" ry="1.5" fill="#a8700e"/></g><g><clipPath id="cib"><rect x="305.2" y="105.2" width="133.0" height="61.0"/></clipPath><g clip-path="url(#cib)"><rect x="305.2" y="105.2" width="133.0" height="61.0" fill="url(#gia)"/><ellipse cx="330" cy="107" rx="30" ry="4" fill="#3e2208" filter="url(#bl2)"/><ellipse cx="415" cy="108" rx="25" ry="4" fill="#3e2208" filter="url(#bl2)"/><g filter="url(#bl3)" fill="none"><path d="M295.0 137.6C301.2 137.5 322.4 137.0 332.2 137.0C342.0 137.0 347.2 137.1 353.6 137.4C360.0 137.7 365.9 138.2 370.8 138.8C375.7 139.4 379.1 141.1 383.0 141.2C386.9 141.3 390.2 140.4 394.0 139.6C397.8 138.8 402.0 137.6 406.0 136.6C410.0 135.6 414.0 134.5 418.0 133.6C422.0 132.7 425.5 132.0 430.0 131.2C434.5 130.4 442.5 129.4 445.0 129.0" stroke="#4e2c04" stroke-width="25.0"/><path d="M295.0 137.6C301.2 137.5 322.4 137.0 332.2 137.0C342.0 137.0 347.2 137.1 353.6 137.4C360.0 137.7 365.9 138.2 370.8 138.8C375.7 139.4 379.1 141.1 383.0 141.2C386.9 141.3 390.2 140.4 394.0 139.6C397.8 138.8 402.0 137.6 406.0 136.6C410.0 135.6 414.0 134.5 418.0 133.6C422.0 132.7 425.5 132.0 430.0 131.2C434.5 130.4 442.5 129.4 445.0 129.0" stroke="#94660c" stroke-width="22.5"/><path d="M295.0 135.3C301.2 135.2 322.4 134.8 332.2 134.8C342.0 134.7 347.2 134.8 353.6 135.2C360.0 135.5 365.9 135.9 370.8 136.6C375.7 137.2 379.1 138.8 383.0 138.9C386.9 139.1 390.2 138.1 394.0 137.3C397.8 136.6 402.0 135.3 406.0 134.3C410.0 133.3 414.0 132.2 418.0 131.3C422.0 130.4 425.5 129.7 430.0 128.9C434.5 128.2 442.5 127.1 445.0 126.8" stroke="#a87a14" stroke-width="17.5"/><path d="M295.0 132.6C301.2 132.5 322.4 132.0 332.2 132.0C342.0 132.0 347.2 132.1 353.6 132.4C360.0 132.7 365.9 133.2 370.8 133.8C375.7 134.4 379.1 136.1 383.0 136.2C386.9 136.3 390.2 135.4 394.0 134.6C397.8 133.8 402.0 132.6 406.0 131.6C410.0 130.6 414.0 129.5 418.0 128.6C422.0 127.7 425.5 127.0 430.0 126.2C434.5 125.4 442.5 124.4 445.0 124.0" stroke="#bc9220" stroke-width="10.5"/><path d="M295.0 129.1C301.2 129.0 322.4 128.5 332.2 128.5C342.0 128.5 347.2 128.6 353.6 128.9C360.0 129.2 365.9 129.7 370.8 130.3C375.7 130.9 379.1 132.6 383.0 132.7C386.9 132.8 390.2 131.9 394.0 131.1C397.8 130.3 402.0 129.1 406.0 128.1C410.0 127.1 414.0 126.0 418.0 125.1C422.0 124.2 425.5 123.5 430.0 122.7C434.5 121.9 442.5 120.9 445.0 120.5" stroke="#d4ae36" stroke-width="4.5"/></g><rect x="305.2" y="105.2" width="133.0" height="61.0" filter="url(#tx)"/></g><rect x="305.2" y="105.2" width="133.0" height="61.0" fill="none" stroke="#fff" stroke-width="1.1"/></g><path d="M391.2 157.5H430.8" stroke="#fff" stroke-width="2.1"/><text x="227.6" y="17.8" font-size="16.5" font-weight="bold" fill="#fff">b</text><text x="385.5" y="26.8" font-size="16" letter-spacing="0.4" fill="#fff">70 pN</text></g>
<g clip-path="url(#cc)"><rect x="445" y="2" width="217" height="167" fill="#090402"/><rect x="445" y="2" width="217" height="167" filter="url(#nz)"/><g opacity="0.95"><g filter="url(#bl)" fill="none" stroke-linecap="round" stroke-linejoin="round"><path d="M512.5 38.5C512.8 37.8 513.9 35.1 514.4 34.0C514.9 32.9 514.6 31.8 515.6 31.8C516.6 31.8 518.6 33.5 520.5 34.1C522.4 34.7 524.8 35.2 526.9 35.4C529.0 35.6 532.2 35.4 533.3 35.4" stroke="#5a2e00" stroke-width="5.1" opacity="0.8"/><path d="M512.5 38.5C512.8 37.8 513.9 35.1 514.4 34.0C514.9 32.9 514.6 31.8 515.6 31.8C516.6 31.8 518.6 33.5 520.5 34.1C522.4 34.7 524.8 35.2 526.9 35.4C529.0 35.6 532.2 35.4 533.3 35.4" stroke="#a86c10" stroke-width="3.1"/><path d="M512.5 38.5C512.8 37.8 513.9 35.1 514.4 34.0C514.9 32.9 514.6 31.8 515.6 31.8C516.6 31.8 518.6 33.5 520.5 34.1C522.4 34.7 524.8 35.2 526.9 35.4C529.0 35.6 532.2 35.4 533.3 35.4" stroke="#c08818" stroke-width="1.0"/></g></g><g filter="url(#bl0)" fill="none" stroke-linecap="round" stroke-linejoin="round"><path d="M560.5 55.7C559.8 54.1 557.4 49.7 556.5 46.1C555.6 42.5 555.1 37.9 555.3 33.9C555.5 29.8 556.7 25.2 557.7 21.8C558.7 18.4 559.6 15.3 561.4 13.3C563.2 11.3 566.0 10.4 568.6 9.7C571.2 9.0 574.5 8.6 577.1 9.2C579.7 9.8 582.7 11.2 584.4 13.3C586.1 15.4 586.9 18.8 587.5 21.8C588.1 24.8 588.4 28.5 588.3 31.5C588.2 34.5 588.0 37.4 586.8 40.0C585.5 42.6 583.2 45.1 580.8 47.0C578.4 48.9 575.7 50.1 572.3 51.6C568.9 53.1 562.5 55.0 560.5 55.7 M560.5 55.7C558.7 55.5 552.6 54.9 549.8 54.5C547.0 54.1 545.6 53.8 543.5 53.3C541.4 52.8 539.2 52.4 537.1 51.7C535.0 51.1 532.8 50.1 530.7 49.4C528.6 48.7 526.4 48.1 524.3 47.5C522.2 46.9 520.1 46.1 518.0 45.6C515.9 45.1 512.7 44.5 511.6 44.3 M533.3 35.4C534.1 35.0 536.7 33.8 538.4 32.9C540.1 32.0 542.1 30.4 543.5 30.1C544.9 29.8 546.0 29.8 546.7 30.9C547.4 32.0 547.5 34.7 547.9 36.7C548.3 38.7 548.6 41.0 549.2 43.1C549.9 45.2 550.8 47.7 551.8 49.4C552.8 51.1 553.5 52.2 555.0 53.3C556.5 54.3 559.6 55.3 560.5 55.7 M560.5 55.7C558.6 56.5 552.7 58.6 549.2 60.6C545.7 62.6 542.3 65.0 539.5 67.5C536.7 70.0 534.3 72.9 532.3 75.8C530.3 78.7 528.9 82.0 527.4 85.0C525.9 88.0 523.8 92.6 523.1 94.1 M560.5 55.7C562.5 55.5 568.3 55.1 572.2 54.5C576.1 53.9 579.9 52.6 583.7 52.2C587.5 51.8 591.5 51.8 595.1 52.2C598.7 52.6 602.4 53.5 605.5 54.5C608.6 55.5 610.8 56.4 613.5 57.9C616.2 59.4 619.1 62.2 621.6 63.7C624.1 65.2 626.7 66.1 628.5 67.1C630.3 68.1 632.2 68.1 632.2 69.6C632.2 71.1 630.1 74.0 628.5 76.3C626.9 78.6 625.0 81.3 622.7 83.2C620.4 85.1 617.6 86.8 614.7 87.8C611.8 88.8 608.6 89.1 605.5 88.9C602.4 88.7 599.5 87.5 596.3 86.6C593.0 85.6 589.2 84.3 586.0 83.2C582.8 82.1 579.5 81.2 576.8 80.2C574.1 79.2 571.0 78.0 569.9 77.5 M632.2 69.6C633.3 69.9 636.4 71.2 638.8 71.7C641.2 72.2 644.8 73.3 646.8 72.9C648.8 72.5 650.0 71.3 650.8 69.4C651.6 67.5 651.7 64.5 651.4 61.4C651.1 58.3 650.0 54.1 649.1 51.0C648.2 47.9 647.0 44.9 645.7 43.0C644.4 41.1 642.8 39.9 641.1 39.5C639.4 39.1 637.5 39.6 635.4 40.7C633.3 41.9 630.8 44.5 628.5 46.4C626.2 48.3 623.0 50.3 621.6 52.2C620.2 54.1 619.6 56.4 620.0 57.9C620.4 59.4 622.1 60.9 623.9 61.4C625.7 61.9 629.1 60.5 630.8 60.9C632.4 61.3 633.4 62.5 633.8 63.7C634.2 64.9 633.2 67.5 633.1 68.3 M560.5 55.7C560.9 57.2 562.0 61.8 563.0 64.8C564.0 67.8 565.2 71.9 566.4 74.0C567.5 76.1 569.3 76.9 569.9 77.5 M560.5 55.7C560.1 57.2 558.2 61.6 558.4 64.8C558.6 68.0 560.3 72.8 561.8 75.1C563.3 77.4 566.6 78.0 567.6 78.6 M572.2 74.0C573.5 73.0 577.3 70.2 580.2 68.3C583.1 66.4 586.7 64.0 589.4 62.5C592.1 61.0 594.6 59.5 596.3 59.5C597.9 59.5 599.1 60.6 599.3 62.5C599.5 64.3 598.3 68.1 597.4 70.6C596.5 73.1 595.9 76.0 594.0 77.4C592.1 78.9 588.9 79.1 586.0 79.3C583.1 79.5 579.5 78.9 576.8 78.6C574.1 78.3 571.0 77.7 569.9 77.5 M569.9 77.5C568.4 78.5 563.8 81.7 560.7 83.2C557.6 84.7 554.5 85.6 551.5 86.6C548.5 87.6 546.0 88.3 542.7 89.2C539.4 90.1 535.1 91.1 531.8 91.9C528.5 92.7 524.5 93.7 523.1 94.1 M570.5 104.5C571.2 102.9 572.9 97.1 574.5 94.7C576.1 92.3 578.3 90.5 580.2 90.1C582.1 89.7 584.6 91.1 586.0 92.4C587.4 93.7 587.7 96.1 588.3 98.1C588.9 100.1 589.4 103.4 589.6 104.5 M523.1 94.1C521.6 93.0 517.1 89.8 514.4 87.6C511.7 85.4 509.5 83.0 506.8 81.0C504.1 79.0 501.1 76.9 498.2 75.6C495.3 74.3 492.4 73.5 489.5 73.4C486.6 73.3 483.3 73.9 480.8 75.0C478.3 76.1 475.8 77.9 474.3 80.0C472.9 82.1 471.9 85.1 472.1 87.6C472.3 90.1 473.8 93.1 475.4 95.1C477.0 97.1 479.9 97.9 481.9 99.5C483.9 101.1 485.3 103.1 487.3 104.9C489.3 106.7 491.3 108.8 493.8 110.3C496.3 111.8 499.6 112.9 502.5 113.6C505.4 114.3 508.7 114.7 511.2 114.7C513.7 114.7 516.6 113.8 517.7 113.6 M523.1 94.1C522.2 95.4 519.0 99.3 517.7 101.7C516.4 104.1 515.5 106.2 515.5 108.2C515.5 110.2 517.3 112.7 517.7 113.6 M523.1 94.1C523.3 95.2 524.4 98.2 524.2 100.6C524.0 102.9 523.1 106.0 522.0 108.2C520.9 110.4 518.4 112.7 517.7 113.6 M523.1 94.1C524.0 95.0 527.0 97.8 528.5 99.5C530.0 101.2 531.2 103.7 531.8 104.5 M517.7 113.6C518.4 114.3 520.4 116.7 522.0 117.9C523.6 119.1 526.6 120.5 527.5 121.0" stroke="#5a2e00" stroke-width="5.0" opacity="0.8"/><path d="M560.5 55.7C559.8 54.1 557.4 49.7 556.5 46.1C555.6 42.5 555.1 37.9 555.3 33.9C555.5 29.8 556.7 25.2 557.7 21.8C558.7 18.4 559.6 15.3 561.4 13.3C563.2 11.3 566.0 10.4 568.6 9.7C571.2 9.0 574.5 8.6 577.1 9.2C579.7 9.8 582.7 11.2 584.4 13.3C586.1 15.4 586.9 18.8 587.5 21.8C588.1 24.8 588.4 28.5 588.3 31.5C588.2 34.5 588.0 37.4 586.8 40.0C585.5 42.6 583.2 45.1 580.8 47.0C578.4 48.9 575.7 50.1 572.3 51.6C568.9 53.1 562.5 55.0 560.5 55.7 M560.5 55.7C558.7 55.5 552.6 54.9 549.8 54.5C547.0 54.1 545.6 53.8 543.5 53.3C541.4 52.8 539.2 52.4 537.1 51.7C535.0 51.1 532.8 50.1 530.7 49.4C528.6 48.7 526.4 48.1 524.3 47.5C522.2 46.9 520.1 46.1 518.0 45.6C515.9 45.1 512.7 44.5 511.6 44.3 M533.3 35.4C534.1 35.0 536.7 33.8 538.4 32.9C540.1 32.0 542.1 30.4 543.5 30.1C544.9 29.8 546.0 29.8 546.7 30.9C547.4 32.0 547.5 34.7 547.9 36.7C548.3 38.7 548.6 41.0 549.2 43.1C549.9 45.2 550.8 47.7 551.8 49.4C552.8 51.1 553.5 52.2 555.0 53.3C556.5 54.3 559.6 55.3 560.5 55.7 M560.5 55.7C558.6 56.5 552.7 58.6 549.2 60.6C545.7 62.6 542.3 65.0 539.5 67.5C536.7 70.0 534.3 72.9 532.3 75.8C530.3 78.7 528.9 82.0 527.4 85.0C525.9 88.0 523.8 92.6 523.1 94.1 M560.5 55.7C562.5 55.5 568.3 55.1 572.2 54.5C576.1 53.9 579.9 52.6 583.7 52.2C587.5 51.8 591.5 51.8 595.1 52.2C598.7 52.6 602.4 53.5 605.5 54.5C608.6 55.5 610.8 56.4 613.5 57.9C616.2 59.4 619.1 62.2 621.6 63.7C624.1 65.2 626.7 66.1 628.5 67.1C630.3 68.1 632.2 68.1 632.2 69.6C632.2 71.1 630.1 74.0 628.5 76.3C626.9 78.6 625.0 81.3 622.7 83.2C620.4 85.1 617.6 86.8 614.7 87.8C611.8 88.8 608.6 89.1 605.5 88.9C602.4 88.7 599.5 87.5 596.3 86.6C593.0 85.6 589.2 84.3 586.0 83.2C582.8 82.1 579.5 81.2 576.8 80.2C574.1 79.2 571.0 78.0 569.9 77.5 M632.2 69.6C633.3 69.9 636.4 71.2 638.8 71.7C641.2 72.2 644.8 73.3 646.8 72.9C648.8 72.5 650.0 71.3 650.8 69.4C651.6 67.5 651.7 64.5 651.4 61.4C651.1 58.3 650.0 54.1 649.1 51.0C648.2 47.9 647.0 44.9 645.7 43.0C644.4 41.1 642.8 39.9 641.1 39.5C639.4 39.1 637.5 39.6 635.4 40.7C633.3 41.9 630.8 44.5 628.5 46.4C626.2 48.3 623.0 50.3 621.6 52.2C620.2 54.1 619.6 56.4 620.0 57.9C620.4 59.4 622.1 60.9 623.9 61.4C625.7 61.9 629.1 60.5 630.8 60.9C632.4 61.3 633.4 62.5 633.8 63.7C634.2 64.9 633.2 67.5 633.1 68.3 M560.5 55.7C560.9 57.2 562.0 61.8 563.0 64.8C564.0 67.8 565.2 71.9 566.4 74.0C567.5 76.1 569.3 76.9 569.9 77.5 M560.5 55.7C560.1 57.2 558.2 61.6 558.4 64.8C558.6 68.0 560.3 72.8 561.8 75.1C563.3 77.4 566.6 78.0 567.6 78.6 M572.2 74.0C573.5 73.0 577.3 70.2 580.2 68.3C583.1 66.4 586.7 64.0 589.4 62.5C592.1 61.0 594.6 59.5 596.3 59.5C597.9 59.5 599.1 60.6 599.3 62.5C599.5 64.3 598.3 68.1 597.4 70.6C596.5 73.1 595.9 76.0 594.0 77.4C592.1 78.9 588.9 79.1 586.0 79.3C583.1 79.5 579.5 78.9 576.8 78.6C574.1 78.3 571.0 77.7 569.9 77.5 M569.9 77.5C568.4 78.5 563.8 81.7 560.7 83.2C557.6 84.7 554.5 85.6 551.5 86.6C548.5 87.6 546.0 88.3 542.7 89.2C539.4 90.1 535.1 91.1 531.8 91.9C528.5 92.7 524.5 93.7 523.1 94.1 M570.5 104.5C571.2 102.9 572.9 97.1 574.5 94.7C576.1 92.3 578.3 90.5 580.2 90.1C582.1 89.7 584.6 91.1 586.0 92.4C587.4 93.7 587.7 96.1 588.3 98.1C588.9 100.1 589.4 103.4 589.6 104.5 M523.1 94.1C521.6 93.0 517.1 89.8 514.4 87.6C511.7 85.4 509.5 83.0 506.8 81.0C504.1 79.0 501.1 76.9 498.2 75.6C495.3 74.3 492.4 73.5 489.5 73.4C486.6 73.3 483.3 73.9 480.8 75.0C478.3 76.1 475.8 77.9 474.3 80.0C472.9 82.1 471.9 85.1 472.1 87.6C472.3 90.1 473.8 93.1 475.4 95.1C477.0 97.1 479.9 97.9 481.9 99.5C483.9 101.1 485.3 103.1 487.3 104.9C489.3 106.7 491.3 108.8 493.8 110.3C496.3 111.8 499.6 112.9 502.5 113.6C505.4 114.3 508.7 114.7 511.2 114.7C513.7 114.7 516.6 113.8 517.7 113.6 M523.1 94.1C522.2 95.4 519.0 99.3 517.7 101.7C516.4 104.1 515.5 106.2 515.5 108.2C515.5 110.2 517.3 112.7 517.7 113.6 M523.1 94.1C523.3 95.2 524.4 98.2 524.2 100.6C524.0 102.9 523.1 106.0 522.0 108.2C520.9 110.4 518.4 112.7 517.7 113.6 M523.1 94.1C524.0 95.0 527.0 97.8 528.5 99.5C530.0 101.2 531.2 103.7 531.8 104.5 M517.7 113.6C518.4 114.3 520.4 116.7 522.0 117.9C523.6 119.1 526.6 120.5 527.5 121.0" stroke="#b47412" stroke-width="3.0"/><path d="M560.5 55.7C559.8 54.1 557.4 49.7 556.5 46.1C555.6 42.5 555.1 37.9 555.3 33.9C555.5 29.8 556.7 25.2 557.7 21.8C558.7 18.4 559.6 15.3 561.4 13.3C563.2 11.3 566.0 10.4 568.6 9.7C571.2 9.0 574.5 8.6 577.1 9.2C579.7 9.8 582.7 11.2 584.4 13.3C586.1 15.4 586.9 18.8 587.5 21.8C588.1 24.8 588.4 28.5 588.3 31.5C588.2 34.5 588.0 37.4 586.8 40.0C585.5 42.6 583.2 45.1 580.8 47.0C578.4 48.9 575.7 50.1 572.3 51.6C568.9 53.1 562.5 55.0 560.5 55.7 M560.5 55.7C558.7 55.5 552.6 54.9 549.8 54.5C547.0 54.1 545.6 53.8 543.5 53.3C541.4 52.8 539.2 52.4 537.1 51.7C535.0 51.1 532.8 50.1 530.7 49.4C528.6 48.7 526.4 48.1 524.3 47.5C522.2 46.9 520.1 46.1 518.0 45.6C515.9 45.1 512.7 44.5 511.6 44.3 M533.3 35.4C534.1 35.0 536.7 33.8 538.4 32.9C540.1 32.0 542.1 30.4 543.5 30.1C544.9 29.8 546.0 29.8 546.7 30.9C547.4 32.0 547.5 34.7 547.9 36.7C548.3 38.7 548.6 41.0 549.2 43.1C549.9 45.2 550.8 47.7 551.8 49.4C552.8 51.1 553.5 52.2 555.0 53.3C556.5 54.3 559.6 55.3 560.5 55.7 M560.5 55.7C558.6 56.5 552.7 58.6 549.2 60.6C545.7 62.6 542.3 65.0 539.5 67.5C536.7 70.0 534.3 72.9 532.3 75.8C530.3 78.7 528.9 82.0 527.4 85.0C525.9 88.0 523.8 92.6 523.1 94.1 M560.5 55.7C562.5 55.5 568.3 55.1 572.2 54.5C576.1 53.9 579.9 52.6 583.7 52.2C587.5 51.8 591.5 51.8 595.1 52.2C598.7 52.6 602.4 53.5 605.5 54.5C608.6 55.5 610.8 56.4 613.5 57.9C616.2 59.4 619.1 62.2 621.6 63.7C624.1 65.2 626.7 66.1 628.5 67.1C630.3 68.1 632.2 68.1 632.2 69.6C632.2 71.1 630.1 74.0 628.5 76.3C626.9 78.6 625.0 81.3 622.7 83.2C620.4 85.1 617.6 86.8 614.7 87.8C611.8 88.8 608.6 89.1 605.5 88.9C602.4 88.7 599.5 87.5 596.3 86.6C593.0 85.6 589.2 84.3 586.0 83.2C582.8 82.1 579.5 81.2 576.8 80.2C574.1 79.2 571.0 78.0 569.9 77.5 M632.2 69.6C633.3 69.9 636.4 71.2 638.8 71.7C641.2 72.2 644.8 73.3 646.8 72.9C648.8 72.5 650.0 71.3 650.8 69.4C651.6 67.5 651.7 64.5 651.4 61.4C651.1 58.3 650.0 54.1 649.1 51.0C648.2 47.9 647.0 44.9 645.7 43.0C644.4 41.1 642.8 39.9 641.1 39.5C639.4 39.1 637.5 39.6 635.4 40.7C633.3 41.9 630.8 44.5 628.5 46.4C626.2 48.3 623.0 50.3 621.6 52.2C620.2 54.1 619.6 56.4 620.0 57.9C620.4 59.4 622.1 60.9 623.9 61.4C625.7 61.9 629.1 60.5 630.8 60.9C632.4 61.3 633.4 62.5 633.8 63.7C634.2 64.9 633.2 67.5 633.1 68.3 M560.5 55.7C560.9 57.2 562.0 61.8 563.0 64.8C564.0 67.8 565.2 71.9 566.4 74.0C567.5 76.1 569.3 76.9 569.9 77.5 M560.5 55.7C560.1 57.2 558.2 61.6 558.4 64.8C558.6 68.0 560.3 72.8 561.8 75.1C563.3 77.4 566.6 78.0 567.6 78.6 M572.2 74.0C573.5 73.0 577.3 70.2 580.2 68.3C583.1 66.4 586.7 64.0 589.4 62.5C592.1 61.0 594.6 59.5 596.3 59.5C597.9 59.5 599.1 60.6 599.3 62.5C599.5 64.3 598.3 68.1 597.4 70.6C596.5 73.1 595.9 76.0 594.0 77.4C592.1 78.9 588.9 79.1 586.0 79.3C583.1 79.5 579.5 78.9 576.8 78.6C574.1 78.3 571.0 77.7 569.9 77.5 M569.9 77.5C568.4 78.5 563.8 81.7 560.7 83.2C557.6 84.7 554.5 85.6 551.5 86.6C548.5 87.6 546.0 88.3 542.7 89.2C539.4 90.1 535.1 91.1 531.8 91.9C528.5 92.7 524.5 93.7 523.1 94.1 M570.5 104.5C571.2 102.9 572.9 97.1 574.5 94.7C576.1 92.3 578.3 90.5 580.2 90.1C582.1 89.7 584.6 91.1 586.0 92.4C587.4 93.7 587.7 96.1 588.3 98.1C588.9 100.1 589.4 103.4 589.6 104.5 M523.1 94.1C521.6 93.0 517.1 89.8 514.4 87.6C511.7 85.4 509.5 83.0 506.8 81.0C504.1 79.0 501.1 76.9 498.2 75.6C495.3 74.3 492.4 73.5 489.5 73.4C486.6 73.3 483.3 73.9 480.8 75.0C478.3 76.1 475.8 77.9 474.3 80.0C472.9 82.1 471.9 85.1 472.1 87.6C472.3 90.1 473.8 93.1 475.4 95.1C477.0 97.1 479.9 97.9 481.9 99.5C483.9 101.1 485.3 103.1 487.3 104.9C489.3 106.7 491.3 108.8 493.8 110.3C496.3 111.8 499.6 112.9 502.5 113.6C505.4 114.3 508.7 114.7 511.2 114.7C513.7 114.7 516.6 113.8 517.7 113.6 M523.1 94.1C522.2 95.4 519.0 99.3 517.7 101.7C516.4 104.1 515.5 106.2 515.5 108.2C515.5 110.2 517.3 112.7 517.7 113.6 M523.1 94.1C523.3 95.2 524.4 98.2 524.2 100.6C524.0 102.9 523.1 106.0 522.0 108.2C520.9 110.4 518.4 112.7 517.7 113.6 M523.1 94.1C524.0 95.0 527.0 97.8 528.5 99.5C530.0 101.2 531.2 103.7 531.8 104.5 M517.7 113.6C518.4 114.3 520.4 116.7 522.0 117.9C523.6 119.1 526.6 120.5 527.5 121.0" stroke="#d8a028" stroke-width="0.9"/></g><g filter="url(#bl3)"><ellipse cx="557.0" cy="53.8" rx="2.4" ry="2.0" fill="#f0d058"/><ellipse cx="562.8" cy="57.0" rx="2.2" ry="1.8" fill="#f0d058"/><ellipse cx="569.9" cy="77.5" rx="2.4" ry="1.8" fill="#ecc84c"/><ellipse cx="523.1" cy="94.1" rx="2.2" ry="2.2" fill="#ecc84c"/><ellipse cx="517.7" cy="113.6" rx="2.2" ry="2.2" fill="#f0d058"/><ellipse cx="507.6" cy="43.9" rx="2.8" ry="6.2" fill="#cc901e" transform="rotate(40 507.6 43.9)"/><ellipse cx="626.9" cy="93.5" rx="2.4" ry="2.2" fill="#d09a20"/><ellipse cx="612.4" cy="94.7" rx="1.3" ry="1.2" fill="#8a5404"/></g><g><clipPath id="cic"><rect x="527.3" y="105.2" width="132.3" height="60.6"/></clipPath><g clip-path="url(#cic)"><rect x="527.3" y="105.2" width="132.3" height="60.6" fill="url(#gia)"/><path d="M527 123.5H590" stroke="#4a2806" stroke-width="4" filter="url(#bl2)"/><path d="M527 150H660M527 158H660" stroke="#2e1604" stroke-width="3" filter="url(#bl2)"/><g filter="url(#bl3)" fill="none"><path d="M515.0 132.7C522.5 132.5 548.5 131.4 559.8 131.7C571.1 132.0 575.6 133.3 582.7 134.3C589.8 135.3 595.9 137.6 602.4 137.6C608.9 137.6 615.5 135.7 622.0 134.3C628.5 132.9 634.0 131.2 641.7 129.4C649.4 127.6 663.6 124.5 668.0 123.5" stroke="#5a3204" stroke-width="13.5"/><path d="M515.0 132.7C522.5 132.5 548.5 131.4 559.8 131.7C571.1 132.0 575.6 133.3 582.7 134.3C589.8 135.3 595.9 137.6 602.4 137.6C608.9 137.6 615.5 135.7 622.0 134.3C628.5 132.9 634.0 131.2 641.7 129.4C649.4 127.6 663.6 124.5 668.0 123.5" stroke="#b07c10" stroke-width="12.2"/><path d="M515.0 131.5C522.5 131.3 548.5 130.2 559.8 130.5C571.1 130.8 575.6 132.1 582.7 133.1C589.8 134.1 595.9 136.4 602.4 136.4C608.9 136.4 615.5 134.5 622.0 133.1C628.5 131.7 634.0 130.0 641.7 128.2C649.4 126.4 663.6 123.3 668.0 122.3" stroke="#d0a024" stroke-width="9.4"/><path d="M515.0 130.0C522.5 129.8 548.5 128.7 559.8 129.0C571.1 129.3 575.6 130.6 582.7 131.6C589.8 132.6 595.9 134.9 602.4 134.9C608.9 134.9 615.5 133.0 622.0 131.6C628.5 130.2 634.0 128.5 641.7 126.7C649.4 124.9 663.6 121.8 668.0 120.8" stroke="#e4bc3c" stroke-width="5.7"/><path d="M515.0 128.1C522.5 127.9 548.5 126.8 559.8 127.1C571.1 127.4 575.6 128.7 582.7 129.7C589.8 130.7 595.9 133.0 602.4 133.0C608.9 133.0 615.5 131.1 622.0 129.7C628.5 128.3 634.0 126.6 641.7 124.8C649.4 123.0 663.6 119.9 668.0 118.9" stroke="#f0d060" stroke-width="2.4"/></g><rect x="527.3" y="105.2" width="132.3" height="60.6" filter="url(#tx)"/></g><rect x="527.3" y="105.2" width="132.3" height="60.6" fill="none" stroke="#fff" stroke-width="1.1"/></g><path d="M612.2 156.6H651.6" stroke="#fff" stroke-width="2.1"/><path d="M462 145.8H506.6" stroke="#fff" stroke-width="2.1"/><path d="M487.4 17L507.6 35.3M500.1 34.3L508.3 36L505.7 28.3" stroke="#fff" stroke-width="1.9" fill="none" stroke-linecap="round" stroke-linejoin="round"/><text x="449.6" y="17.8" font-size="16.5" font-weight="bold" fill="#fff">c</text><text x="599.4" y="25.6" font-size="16" letter-spacing="0.4" fill="#fff">190 pN</text></g>
<rect x="52.2" y="180.4" width="270" height="209.8" fill="#fff" stroke="#000" stroke-width="1.5"/>
<path d="M104.6 194.7V354.9M103.9 354.2H302.2M104.6 353.8H102.4M104.6 346.3H100.6M104.6 338.8H102.4M104.6 331.2H102.4M104.6 323.7H102.4M104.6 316.1H102.4M104.6 308.6H100.6M104.6 301.0H102.4M104.6 293.5H102.4M104.6 285.9H102.4M104.6 278.4H102.4M104.6 270.9H100.6M104.6 263.3H102.4M104.6 255.8H102.4M104.6 248.2H102.4M104.6 240.7H102.4M104.6 233.1H100.6M104.6 225.6H102.4M104.6 218.0H102.4M104.6 210.5H102.4M104.6 202.9H102.4M104.6 195.4H100.6M104.6 354.2V357.8M114.4 354.2V356.4M124.3 354.2V356.4M134.1 354.2V356.4M144.0 354.2V356.4M153.8 354.2V357.8M163.7 354.2V356.4M173.5 354.2V356.4M183.4 354.2V356.4M193.2 354.2V356.4M203.1 354.2V357.8M212.9 354.2V356.4M222.7 354.2V356.4M232.6 354.2V356.4M242.4 354.2V356.4M252.3 354.2V357.8M262.1 354.2V356.4M272.0 354.2V356.4M281.8 354.2V356.4M291.7 354.2V356.4M301.5 354.2V357.8" fill="none" stroke="#000" stroke-width="1.4"/>
<path d="M104.8 348.2L108.5 348.5L112.7 347.1L116.9 346.7L121.1 347.4L126.4 346.9L131.7 346.9L136.0 346.7L139.1 345.7L142.3 346.4L146.5 345.9L150.8 345.3L155.0 345.6L158.2 342.7L160.8 337.4L163.4 332.1L165.3 323.8L167.9 317.4L170.4 300.8L173.0 283.0L176.5 265.0L180.6 251.2L183.7 246.1L185.7 244.7L187.1 246.1L189.8 243.5L192.9 241.0L195.3 239.4L196.9 241.0L199.0 247.1L201.0 253.3L202.7 259.4L204.9 272.8L207.4 288.1L210.0 303.4L212.5 313.6L216.4 321.3L219.4 326.4L222.0 336.6L225.3 341.7L229.1 344.2L234.2 345.5L237.1 344.6L241.3 346.1L245.6 347.7L248.7 348.5L251.9 347.2L255.1 347.7L258.3 349.3L261.4 348.0L265.1 347.7" fill="none" stroke="#c9c9c9" stroke-width="1" stroke-linejoin="round"/>
<path d="M104.8 348.2L107.9 348.5L110.0 346.4L112.2 347.4L113.7 348.5L115.3 352.7L116.9 354.1L119.0 352.7L121.1 353.5L122.7 351.7L125.4 349.2L128.6 348.8L131.2 348.5L133.3 350.1L135.9 349.6L138.1 351.1L140.2 352.4L142.8 352.0L144.4 351.1L146.0 352.7L147.6 354.8L150.2 355.2L151.8 354.3L153.4 351.1L154.5 349.0L157.1 345.9L159.2 341.6L161.3 335.3L163.5 328.5L166.6 321.3L168.4 305.9L169.9 285.5L171.7 270.2L172.4 241.0L173.5 230.8L176.1 222.7L178.6 216.5L180.6 210.4L182.2 202.2L184.3 197.6L185.7 199.2L187.8 204.3L189.8 205.9L191.8 204.7L193.9 199.8L195.3 198.6L196.9 204.3L199.0 213.5L201.0 210.4L203.1 208.4L204.7 211.4L206.1 219.6L208.2 225.7L209.8 226.3L211.2 229.2L212.9 228.4L214.3 232.9L215.7 243.1L217.3 253.3L219.4 261.4L221.5 272.8L224.0 283.0L226.6 298.3L229.1 311.0L231.7 320.0L235.0 327.1L237.1 332.9L239.8 337.7L242.4 340.6L245.0 340.9L247.2 343.5L249.3 345.1L251.4 347.7L253.5 344.6L255.6 346.1L257.7 347.7L259.8 350.9L262.5 353.6L265.1 355.7L267.3 357.3L269.4 356.2L272.0 354.6L275.2 352.7L278.4 350.9L280.5 352.0L282.6 350.4L284.7 349.5L286.3 348.8L288.4 347.2L290.5 348.8L292.6 350.9L294.2 351.6L296.3 351.2" fill="none" stroke="#e8321e" stroke-width="1.1" stroke-linejoin="round"/>
<path d="M104.8 348.5L107.9 348.2L110.6 347.1L113.2 347.4L115.9 348.5L118.0 350.6L120.1 352.2L122.2 352.4L124.3 351.1L126.4 352.2L128.6 353.3L131.7 353.5L134.9 353.0L138.1 352.4L141.2 351.7L143.9 350.6L145.5 349.9L147.1 351.7L149.2 351.1L151.8 349.0L155.0 346.9L157.6 344.3L159.7 339.5L161.5 328.9L163.3 311.0L164.8 293.2L166.1 281.7L167.4 277.4L168.6 278.4L169.4 283.0L170.4 280.4L171.7 270.2L174.5 255.3L176.5 241.0L178.6 228.8L180.0 224.7L182.7 225.1L184.7 226.7L186.7 228.8L188.8 225.1L190.4 224.3L191.8 226.7L193.3 230.8L195.3 234.5L196.9 230.8L198.6 230.4L200.0 234.9L202.0 240.0L203.7 241.0L205.1 240.6L207.1 245.1L209.2 253.3L210.6 261.4L212.5 275.3L215.1 290.6L217.6 305.9L220.2 323.8L222.2 335.3L224.5 341.2L227.8 342.9L231.7 343.7L235.0 344.2L238.2 345.3L241.3 346.7L244.5 347.0L246.6 345.6L248.2 344.6L250.3 346.1L252.4 347.0L255.1 347.0L257.2 347.7L259.3 350.4L262.0 352.0L264.6 352.7L267.3 353.3L269.9 352.3L272.5 351.2L275.2 350.4L277.8 350.6L279.9 352.3L281.0 353.0" fill="none" stroke="#c23fc4" stroke-width="1.1" stroke-linejoin="round"/>
<text x="98.8" y="350.3" font-size="12" text-anchor="end">0.0</text>
<text x="98.8" y="312.6" font-size="12" text-anchor="end">0.5</text>
<text x="98.8" y="274.9" font-size="12" text-anchor="end">1.0</text>
<text x="98.8" y="237.1" font-size="12" text-anchor="end">1.5</text>
<text x="98.8" y="199.4" font-size="12" text-anchor="end">2.0</text>
<text x="104.4" y="368.6" font-size="12" text-anchor="middle">0</text>
<text x="153.7" y="368.6" font-size="12" text-anchor="middle">5</text>
<text x="203.0" y="368.6" font-size="12" text-anchor="middle">10</text>
<text x="252.3" y="368.6" font-size="12" text-anchor="middle">15</text>
<text x="301.6" y="368.6" font-size="12" text-anchor="middle">20</text>
<text x="201.7" y="385.7" font-size="15" text-anchor="middle">Cross Section Length (nm)</text>
<text transform="translate(69.4 284.6) rotate(-90)" font-size="15.3" text-anchor="middle">DNA Height (nm)</text>
<text x="62" y="196.2" font-size="15.5" font-weight="bold">d</text>
<rect x="233.8" y="184.6" width="75" height="47.8" fill="#fff" stroke="#555" stroke-width="0.9"/>
<path d="M237.4 195.9H265.1" stroke="#e8321e" stroke-width="1.2"/>
<text x="268.4" y="199.7" font-size="12">39 pN</text>
<path d="M237.4 210.9H265.1" stroke="#c23fc4" stroke-width="1.2"/>
<text x="268.4" y="214.7" font-size="12">70 pN</text>
<path d="M237.4 225.9H265.1" stroke="#c9c9c9" stroke-width="1.2"/>
<text x="268.4" y="229.7" font-size="12">193 pN</text>
<rect x="347" y="180.4" width="264.6" height="209.8" fill="#fff" stroke="#000" stroke-width="1.5"/>
<path d="M399.0 195.6V354.9M398.3 354.2H596.2M399.0 354.2H395.0M399.0 345.4H396.8M399.0 336.7H396.8M399.0 327.9H396.8M399.0 319.1H395.0M399.0 310.4H396.8M399.0 301.6H396.8M399.0 292.9H396.8M399.0 284.1H395.0M399.0 275.3H396.8M399.0 266.6H396.8M399.0 257.8H396.8M399.0 249.0H395.0M399.0 240.3H396.8M399.0 231.5H396.8M399.0 222.8H396.8M399.0 214.0H395.0M399.0 205.2H396.8M399.0 196.5H396.8M398.4 354.2V356.4M409.4 354.2V356.4M420.3 354.2V357.8M431.2 354.2V356.4M442.2 354.2V356.4M453.1 354.2V356.4M464.1 354.2V356.4M475.0 354.2V357.8M485.9 354.2V356.4M496.9 354.2V356.4M507.8 354.2V356.4M518.8 354.2V356.4M529.7 354.2V357.8M540.6 354.2V356.4M551.6 354.2V356.4M562.5 354.2V356.4M573.5 354.2V356.4M584.4 354.2V357.8M595.3 354.2V356.4" fill="none" stroke="#000" stroke-width="1.4"/>
<text x="394" y="358.2" font-size="12" text-anchor="end">1.2</text>
<text x="394" y="323.1" font-size="12" text-anchor="end">1.4</text>
<text x="394" y="288.1" font-size="12" text-anchor="end">1.6</text>
<text x="394" y="253.0" font-size="12" text-anchor="end">1.8</text>
<text x="394" y="218.0" font-size="12" text-anchor="end">2.0</text>
<text x="420.3" y="368.6" font-size="12" text-anchor="middle">50</text>
<text x="475.0" y="368.6" font-size="12" text-anchor="middle">100</text>
<text x="529.7" y="368.6" font-size="12" text-anchor="middle">150</text>
<text x="584.4" y="368.6" font-size="12" text-anchor="middle">200</text>
<text x="497" y="385.7" font-size="15" text-anchor="middle">Peak Force (pN)</text>
<text transform="translate(364.0 285.2) rotate(-90)" font-size="15" text-anchor="middle">DNA height (nm)</text>
<text x="354.6" y="195.8" font-size="15.5" font-weight="bold">e</text>
<path d="M408.3 211.2V234.4M406.3 211.2h4M406.3 234.4h4M425.1 254.7V277.9M423.1 254.7h4M423.1 277.9h4M441.9 270.4V293.6M439.9 270.4h4M439.9 293.6h4M458.7 275.8V299.0M456.7 275.8h4M456.7 299.0h4M475.8 295.1V318.3M473.8 295.1h4M473.8 318.3h4M492.6 314.5V337.7M490.6 314.5h4M490.6 337.7h4M509.4 317.8V341.0M507.4 317.8h4M507.4 341.0h4M534.9 324.7V347.9M532.9 324.7h4M532.9 347.9h4M576.9 324.8V348.0M574.9 324.8h4M574.9 348.0h4" fill="none" stroke="#e0402e" stroke-width="1"/>
<path d="M402.5 222.8H414.1M402.5 220.8v4M414.1 220.8v4M419.3 266.3H430.9M419.3 264.3v4M430.9 264.3v4M436.1 282.0H447.7M436.1 280.0v4M447.7 280.0v4M452.9 287.4H464.5M452.9 285.4v4M464.5 285.4v4M470.0 306.7H481.6M470.0 304.7v4M481.6 304.7v4M486.8 326.1H498.4M486.8 324.1v4M498.4 324.1v4M503.6 329.4H515.2M503.6 327.4v4M515.2 327.4v4M529.1 336.3H540.7M529.1 334.3v4M540.7 334.3v4M571.1 336.4H582.7M571.1 334.4v4M582.7 334.4v4" fill="none" stroke="#000" stroke-width="0.9"/>
<circle cx="408.3" cy="222.8" r="1.7" fill="#000"/><circle cx="425.1" cy="266.3" r="1.7" fill="#000"/><circle cx="441.9" cy="282.0" r="1.7" fill="#000"/><circle cx="458.7" cy="287.4" r="1.7" fill="#000"/><circle cx="475.8" cy="306.7" r="1.7" fill="#000"/><circle cx="492.6" cy="326.1" r="1.7" fill="#000"/><circle cx="509.4" cy="329.4" r="1.7" fill="#000"/><circle cx="534.9" cy="336.3" r="1.7" fill="#000"/><circle cx="576.9" cy="336.4" r="1.7" fill="#000"/>
</svg>
</body></html>
